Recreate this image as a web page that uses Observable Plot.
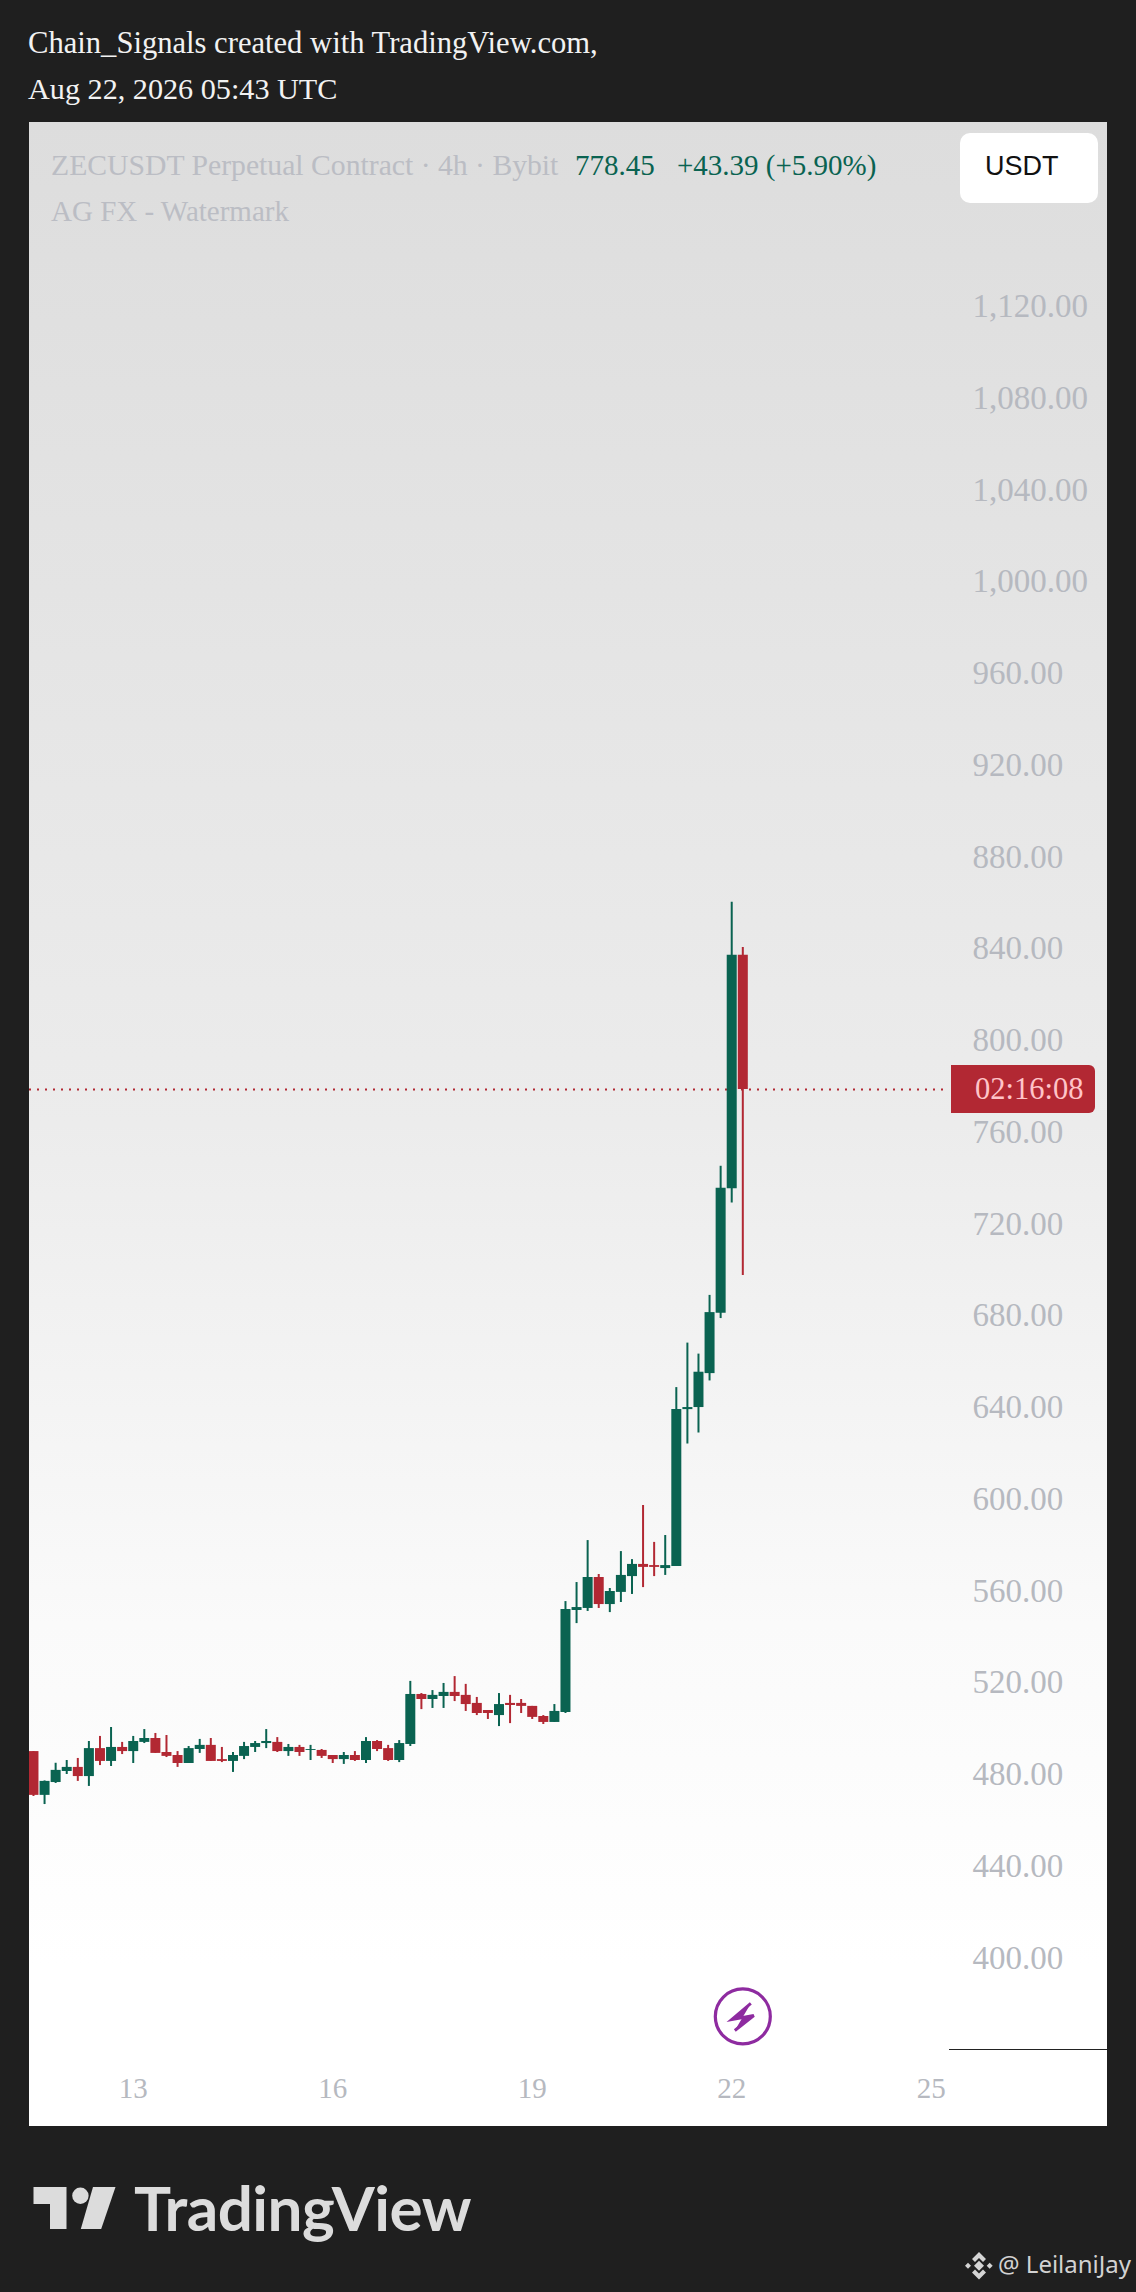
<!DOCTYPE html>
<html><head><meta charset="utf-8">
<script src="https://cdn.jsdelivr.net/npm/d3@7"></script>
<script src="https://cdn.jsdelivr.net/npm/@observablehq/plot@0.6"></script>
<style>
html,body{margin:0;padding:0;background:#1f1f1f;width:1136px;height:2292px;overflow:hidden}
.t{position:absolute;white-space:pre;line-height:1;font-family:"Liberation Serif",serif}
#panel{position:absolute;left:29px;top:122px;width:1078px;height:2004px;overflow:hidden;
 background:linear-gradient(#dddddd 0%,#ececec 50%,#fafafa 75%,#ffffff 92%);}
#panel svg{position:absolute;left:0;top:0;background:transparent}
</style></head><body>
<div class="t" style="left:28px;top:28px;font-size:30.6px;color:#f2f2f2" id="title1">Chain_Signals created with TradingView.com,</div>
<div class="t" style="left:28px;top:74px;font-size:30.2px;color:#f2f2f2">Aug 22, 2026 05:43 UTC</div>
<div id="panel"></div>
<svg style="position:absolute;left:0;top:0" width="1136" height="2292" pointer-events="none">
 <g fill="#dcdcdc">
  <polygon points="33.5,2187 66.5,2187 66.5,2229 50,2229 50,2204 33.5,2204"/>
  <circle cx="80.4" cy="2195.7" r="8.2"/>
  <polygon points="93,2187 115.5,2187 101.2,2229 80.8,2229"/>
 </g>
 <g fill="#d4d4d4">
  <polygon points="979,2260.7 984,2265.7 979,2270.7 974,2265.7"/>
  <polygon points="965,2265.7 968,2262.7 971,2265.7 968,2268.7"/>
  <polygon points="986.7,2265.7 989.7,2262.7 992.7,2265.7 989.7,2268.7"/>
  <path d="M979 2252 L986 2259 L983 2262 L979 2258 L975 2262 L972 2259Z"/>
  <path d="M979 2279.5 L986 2272.5 L983 2269.5 L979 2273.5 L975 2269.5 L972 2272.5Z"/>
 </g>
</svg>
<div class="t" style="left:134px;top:2176px;font-family:Lato,sans-serif;font-weight:700;font-size:62px;color:#dcdcdc;letter-spacing:-0.5px">TradingView</div>
<div class="t" style="left:998px;top:2252px;font-family:'Noto Sans',sans-serif;font-size:24px;color:#d2d2d2">@ LeilaniJay</div>
<script>
const opens=[489.8,470.7,476.3,481.1,482.9,478.9,491.1,485.5,491.6,489.8,493.8,495.5,489.4,488.1,484.6,490.7,492.5,486.3,485.5,487.7,491.6,493.3,493.8,489.8,491.6,490.3,490.3,488.1,486.3,488.1,485.9,494.2,491.1,485.9,492.9,514.7,512.5,513.8,515.6,514.3,510.8,507.7,505.5,510.8,510.8,509.5,505.1,502.5,506.8,551.3,552.2,565.7,553.9,559.2,566.1,571.4,570.9,569.6,570.5,638.9,639.8,654.6,680.9,735.2,837.0];
const highs=[489.8,477.0,484.7,485.9,486.8,494.2,496.4,500.3,493.8,496.4,499.4,497.7,496.8,489.8,492.0,495.1,495.5,491.6,489.4,493.8,494.2,499.4,495.9,492.9,492.5,492.5,490.7,488.1,489.4,489.8,495.9,494.6,492.5,494.6,520.4,515.1,516.4,519.5,522.5,519.1,513.4,507.7,515.1,514.3,512.5,509.5,505.5,510.3,555.2,563.5,581.8,567.0,560.9,577.0,573.5,597.1,581.0,584.0,648.5,667.9,663.1,688.7,745.0,860.1,840.4];
const lows=[470.2,466.7,475.9,479.8,476.8,474.6,483.7,483.3,488.5,484.6,493.3,489.0,487.2,482.9,484.6,489.0,485.5,485.0,480.7,486.3,489.4,491.1,489.4,487.7,487.7,485.9,486.8,484.6,484.2,485.5,484.6,489.8,485.5,485.0,492.0,508.1,508.6,508.6,511.6,507.3,505.5,503.8,500.7,502.0,506.4,503.8,501.6,502.5,506.4,545.6,550.9,552.2,550.4,554.8,558.3,561.3,566.1,566.6,570.5,623.9,628.7,651.4,678.6,729.0,697.4];
const closes=[470.7,476.8,481.6,482.9,478.9,491.1,485.5,491.6,489.8,494.2,495.5,489.0,487.7,484.6,491.1,492.5,485.5,485.5,488.1,492.0,493.3,494.2,489.8,491.6,489.4,490.7,487.7,486.3,488.1,485.9,494.2,490.7,485.9,493.3,514.7,512.5,514.3,515.6,513.8,510.3,506.4,506.4,510.3,509.9,509.5,504.7,502.5,507.3,551.7,552.6,565.7,553.9,559.6,566.6,571.4,570.1,570.1,570.9,638.9,639.8,655.2,681.2,735.4,837.0,778.45];
const yTicks=[400,440,480,520,560,600,640,680,720,760,800,840,880,920,960,1000,1040,1080,1120];
const xTicks=["2026-08-13","2026-08-16","2026-08-19","2026-08-22","2026-08-25"].map(d=>new Date(d+"T00:00Z"));
const firstBar=Date.UTC(2026,7,11,12);
const barMs=4*3600e3;
const lastPrice=778.45;
const GREEN="#0a6351",RED="#b22833",MUTED="#b6b9c0";
const bars=opens.map((o,i)=>({t:new Date(firstBar+i*barMs),o,h:highs[i],l:lows[i],c:closes[i]}));
const colorOf=d=>d.c>=d.o?GREEN:RED;
const lineEnd=new Date("2026-08-25T06:36Z"), paneEnd=new Date("2026-08-27T15:37Z"), paneStart=new Date("2026-08-11T10:34Z");
const markerAt=[{t:new Date("2026-08-22T04:00Z"),v:374.3}];
const bolt={draw(c){c.moveTo(8,-13);c.lineTo(-11,3);c.lineTo(11,-1);c.lineTo(-8,14);}};
const fontFamily='"Liberation Serif",serif';
const chart=Plot.plot({
 width:1078,height:2004,marginTop:0,marginLeft:0,marginRight:0,marginBottom:77,
 style:{background:"transparent",fontFamily,overflow:"visible"},
 x:{type:"utc",domain:[paneStart,paneEnd]},
 y:{domain:[359.9,1200.1]},
 marks:[
  Plot.ruleY([lastPrice],{x1:paneStart,x2:lineEnd,stroke:RED,strokeWidth:2,strokeDasharray:"2 6"}),
  Plot.ruleY([359.9],{x1:lineEnd,x2:paneEnd,stroke:"#222",strokeWidth:1.2}),
  Plot.ruleX(bars,{x:"t",y1:"l",y2:"h",stroke:colorOf,strokeWidth:2}),
  Plot.ruleX(bars,{x:"t",y1:"o",y2:"c",stroke:colorOf,strokeWidth:10}),
  Plot.dot(markerAt,{x:"t",y:"v",r:27.5,stroke:"#8e2ba0",strokeWidth:3.2,fill:"none"}),
  Plot.dot(markerAt,{x:"t",y:"v",symbol:bolt,stroke:"#8e2ba0",strokeWidth:3,fill:"#8e2ba0"}),
  Plot.axisX(xTicks,{anchor:"bottom",tickSize:0,tickPadding:28,label:null,fontSize:29,fill:MUTED,tickFormat:d=>String(d.getUTCDate())}),
  Plot.axisY(yTicks,{anchor:"right",tickSize:0,textAnchor:"start",dx:-144,dy:0.5,label:null,fontSize:33,fill:MUTED,tickFormat:d=>d3.format(",.2f")(d)})
 ]
});
const panel=document.getElementById("panel");
panel.appendChild(chart);
const py=chart.scale("y").apply(lastPrice);
function box(html,css){const e=document.createElement("div");e.className="t";e.style.cssText=css;e.innerHTML=html;panel.appendChild(e);return e;}
box("ZECUSDT Perpetual Contract · 4h · Bybit","left:22px;top:29px;font-size:29.7px;color:#bbbdc4");
box("778.45","left:546px;top:29px;font-size:29px;color:"+GREEN);
box("+43.39 (+5.90%)","left:648px;top:29px;font-size:29px;color:"+GREEN);
box("AG FX - Watermark","left:22px;top:75px;font-size:29px;color:#bbbdc4");
box("USDT","left:931px;top:11px;width:138px;height:70px;background:#fff;border-radius:10px;box-sizing:border-box;padding:33px 0 0 25px;font-size:27px;color:#111;font-family:'Liberation Sans',sans-serif;line-height:0;");
box("02:16:08",`left:922px;top:${py-24}px;width:144px;height:48px;background:${RED};border-radius:0 6px 6px 0;color:#ffc4c8;font-size:30.5px;line-height:48px;text-align:left;box-sizing:border-box;padding-left:24px`);
</script>
</body></html>
